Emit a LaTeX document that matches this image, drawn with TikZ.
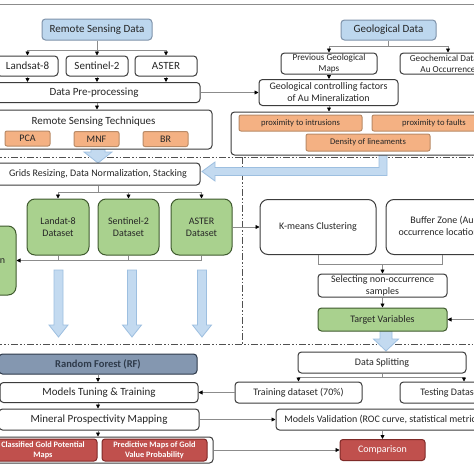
\documentclass[tikz,border=0pt]{standalone}
\usepackage{fontspec}
\setmainfont{Carlito}
\usetikzlibrary{arrows.meta,calc}
\definecolor{boxc}{HTML}{3C3C3C}
\definecolor{bluef}{HTML}{BDD7EE}
\definecolor{blued}{HTML}{7F93AA}
\definecolor{bluef2}{HTML}{C3DAF0}
\definecolor{blued2}{HTML}{9DBFE0}
\definecolor{grf}{HTML}{A9D18E}
\definecolor{grd}{HTML}{3F5A2E}
\definecolor{orf}{HTML}{F4B183}
\definecolor{ord}{HTML}{B98A66}
\definecolor{redf}{HTML}{C0504D}
\definecolor{redd}{HTML}{7F2A28}
\definecolor{rff}{HTML}{8497B0}
\definecolor{rfd}{HTML}{2E3A4A}
\definecolor{linec}{HTML}{8C8C8C}
\definecolor{sepc}{HTML}{505050}
\definecolor{txt}{HTML}{262626}
\newcommand\fsz[2]{\fontsize{#1}{#2}\selectfont}
\begin{document}
\begin{tikzpicture}[x=1pt,y=-1pt,
  sz/.style n args={2}{minimum width=#1pt,minimum height=#2pt},
  wbox/.style={draw=boxc,line width=1pt,fill=white,rounded corners=3.5pt,inner sep=0pt,align=center,text=txt},
  bluebox/.style={wbox,fill=bluef,draw=blued},
  orbox/.style={wbox,fill=orf,draw=ord,rounded corners=2pt},
  grbox/.style={wbox,fill=grf,draw=grd,rounded corners=8pt},
  redbox/.style={wbox,fill=redf,draw=redd,text=white,rounded corners=3pt},
  rfbox/.style={wbox,fill=rff,draw=rfd,text=rfd},
  lbl/.style={inner sep=0pt,text=txt,align=center},
  fa/.style={font=\fsz{11}{12}},
  fb/.style={font=\fsz{10}{12}},
  fc/.style={font=\fsz{9.2}{11}},
  fd/.style={font=\fsz{8.6}{10}},
  fe/.style={font=\bfseries\fsz{8.3}{10}},
  ln/.style={draw=linec,line width=0.8pt},
  arr/.style={ln,-{Triangle[length=4pt,width=4pt,color=black]}},
  sepl/.style={draw=sepc,line width=1pt,dash pattern=on 7pt off 2pt on 1.5pt off 2pt on 1.5pt off 2pt},
  barrow/.style={fill=bluef2,draw=blued2,line width=0.8pt},
  framel/.style={draw=linec,line width=1pt}]
\useasboundingbox (0,0) rectangle (474,474);
\fill[white] (0,0) rectangle (474,474);
% frame and separators
\draw[framel] (-5,4) -- (479,4);
\draw[sepl] (-5,157) -- (479,157);
\draw[sepl] (242,157) -- (242,344);
\draw[sepl] (-5,344) -- (479,344);
% block arrows
\draw[barrow] (91,149) -- (105,149) -- (105,152) -- (112,152) -- (98,163) -- (84,152) -- (91,152) -- cycle;
\draw[barrow] (379,155) -- (387,155) -- (387,175.5) -- (215,175.5) -- (215,181) -- (202,171.5) -- (215,162) -- (215,167.5) -- (379,167.5) -- cycle;
\foreach \cx in {58.5,132,202}{
  \draw[barrow] (\cx-4.5,270) -- (\cx+4.5,270) -- (\cx+4.5,325) -- (\cx+9.5,325) -- (\cx,337) -- (\cx-9.5,325) -- (\cx-4.5,325) -- cycle;}
\draw[barrow] (380,331) -- (392,331) -- (392,339) -- (398.5,339) -- (386,351) -- (373.5,339) -- (380,339) -- cycle;
% top-left
\node[bluebox,sz={110}{21},fa] (rsd) at (97,29.5) {Remote Sensing Data};
\node[wbox,sz={61}{20},fa] (l8) at (27.5,66) {Landsat-8};
\node[wbox,sz={62}{20},fa] (s2) at (97,66) {Sentinel-2};
\node[wbox,sz={62}{20},fa] (as) at (166,66) {ASTER};
\node[wbox,sz={212}{20},fa] (dpp) at (94,92.5) {Data Pre-processing};
\node[wbox,sz={237}{39}] (rst) at (93.5,129.5) {};
\node[lbl,fa] (rstl) at (93.5,122) {Remote Sensing Techniques};
\node[orbox,sz={45}{15},fb] (pca) at (27.5,138.5) {PCA};
\node[orbox,sz={45}{15},fb] (mnf) at (96.5,139) {MNF};
\node[orbox,sz={45}{15},fb] (br) at (165.5,139) {BR};
% top-right
\node[bluebox,sz={95}{20},fa] (gd) at (388.5,30) {Geological Data};
\node[wbox,sz={96}{21},fc] (pgm) at (329,63.5) {Previous Geological\\Maps};
\node[wbox,sz={96}{21},fc] (gcd) at (448,63.5) {Geochemical Data \&\\Au Occurrence};
\node[wbox,sz={139}{26},fb] (gcf) at (328.5,92.5) {Geological controlling factors\\of Au Mineralization};
\node[wbox,sz={269}{43}] (pcont) at (365.5,133.5) {};
\node[orbox,sz={123}{16},fd] (pi) at (300.5,123) {proximity to intrusions};
\node[orbox,sz={124}{16},fd] (pf) at (434,123) {proximity to faults};
\node[orbox,sz={124}{17},fd] (dl) at (368,142.5) {Density of lineaments};
% middle-left
\node[wbox,sz={204}{22},fb] (grd) at (98,174) {Grids Resizing, Data Normalization, Stacking};
\node[grbox,sz={62}{56},fb] (ld) at (58,227) {Landat-8\\Dataset};
\node[grbox,sz={61}{56},fb] (sd) at (128.5,227) {Sentinel-2\\Dataset};
\node[grbox,sz={61}{56},fb] (ad) at (201.5,227) {ASTER\\Dataset};
\node[grbox,sz={40}{69}] (lg) at (-4,260.5) {};
\node[lbl,fb] (lgl) at (2.5,261) {n};
% middle-right
\node[wbox,sz={116}{55},fb,rounded corners=8pt] (km) at (318,227) {K-means Clustering};
\node[wbox,sz={112}{55},fb,rounded corners=8pt] (bz) at (442,227) {Buffer Zone (Au\\occurrence locations)};
\node[wbox,sz={129}{23},fb] (sel) at (382.5,285.5) {Selecting non-occurrence\\samples};
\node[grbox,rounded corners=3.5pt,sz={129}{23},fb] (tv) at (382.5,319.5) {Target Variables};
\coordinate (tvin) at (482,319.5);
% bottom-left
\node[rfbox,sz={198}{20},font=\bfseries\fsz{10.5}{12}] (rf) at (98,364) {Random Forest (RF)};
\node[wbox,sz={198}{20},fa] (mt) at (99,392.5) {Models Tuning \& Training};
\node[wbox,sz={200}{21},fa] (mpm) at (99,419.5) {Mineral Prospectivity Mapping};
\node[wbox,sz={229}{26}] (mc) at (98.5,450) {};
\node[redbox,sz={108}{22},fe] (cg) at (43,450) {Classified Gold Potential\\Maps};
\node[redbox,sz={105}{22},fe] (pm) at (154.5,450) {Predictive Maps of Gold\\Value Probability};
% bottom-right
\node[wbox,sz={168}{21},fb] (ds) at (382,362.5) {Data Splitting};
\node[wbox,sz={127}{21},fb] (tr) at (298.5,392.5) {Training dataset (70\%)};
\node[wbox,sz={128}{21},fb] (te) at (464,392.5) {Testing Dataset (30\%)};
\node[wbox,sz={215}{21},fb] (mv) at (383.5,419.5) {Models Validation (ROC curve, statistical metrics)};
\node[redbox,sz={85}{21},fb] (cmp) at (382.5,450) {Comparison};
% connectors top-left
\coordinate (j1) at (97,50);
\draw[ln] (rsd.south) -- (j1);
\draw[ln] (l8.north |- j1) -- (as.north |- j1);
\foreach \n in {l8,s2,as}{
  \draw[arr] (\n.north |- j1) -- (\n.north);
  \draw[arr] (\n.south) -- (\n.south |- dpp.north);}
\draw[arr] (s2.south |- dpp.south) -- (s2.south |- rst.north);
\draw[arr] (dpp.east) -- (gcf.west);
% connectors top-right
\coordinate (j2) at (388.5,46);
\draw[ln] (gd.south) -- (j2);
\draw[ln] (pgm.north |- j2) -- (gcd.north |- j2);
\draw[arr] (pgm.north |- j2) -- (pgm.north);
\draw[arr] (gcd.north |- j2) -- (gcd.north);
\draw[arr] (pgm.south) -- (pgm.south |- gcf.north);
\draw[arr] (pgm.south |- gcf.south) -- (pgm.south |- pcont.north);
% datasets
\coordinate (j3) at (98,192);
\draw[ln] (grd.south) -- (j3);
\draw[ln] (ld.north |- j3) -- (ad.north |- j3);
\foreach \n in {ld,sd,ad}{
  \draw[arr] (\n.north |- j3) -- (\n.north);}
\coordinate (j4) at (0,260.5);
\foreach \n in {ld,sd,ad}{
  \draw[ln] (\n.south) -- (\n.south |- j4);}
\draw[arr] (ad.south |- j4) -- (lg.east);
\draw[arr] (ad.east) -- (km.west);
% right middle
\coordinate (j5) at (383,264);
\draw[ln] (km.south) -- (km.south |- j5) -- (bz.south |- j5) -- (bz.south);
\draw[arr] (sel.north |- j5) -- (sel.north);
\draw[arr] (sel.south) -- (tv.north);
\draw[arr] (tvin) -- (tv.east);
% bottom right
\coordinate (j6) at (382,377);
\draw[ln] (ds.south) -- (j6);
\draw[ln] (tr.north |- j6) -- (te.north |- j6);
\draw[arr] (tr.north |- j6) -- (tr.north);
\draw[arr] (te.north |- j6) -- (te.north);
\draw[arr] (cmp.north |- mv.south) -- (cmp.north);
% bottom left
\draw[arr] (rf.south) -- (rf.south |- mt.north);
\draw[arr] (rf.south |- mt.south) -- (rf.south |- mpm.north);
\draw[arr] (rf.south |- mpm.south) -- (rf.south |- mc.north);
\draw[arr] (tr.west) -- (mt.east);
\draw[arr] (mpm.east) -- (mv.west);
\draw[arr] (mc.east) -- (cmp.west);
\end{tikzpicture}
\end{document}
